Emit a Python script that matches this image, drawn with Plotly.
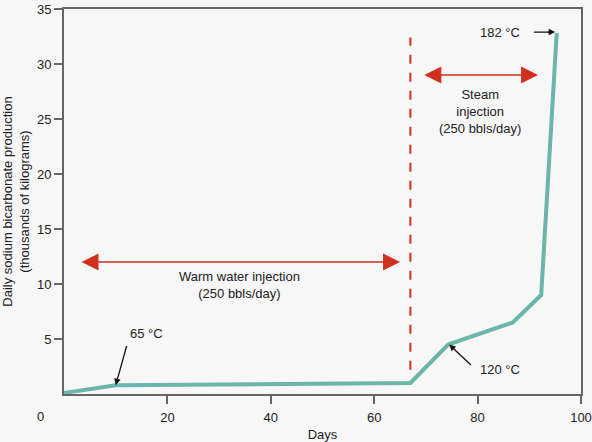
import plotly.graph_objects as go

# production curve
days = [0, 10, 67, 74.3, 86.8, 92.3, 95.3]
production = [0.1, 0.8, 1.0, 4.5, 6.5, 9.0, 32.8]

x_ticks = [20, 40, 60, 80, 100]
y_ticks = [5, 10, 15, 20, 25, 30, 35]

switch_day = 67
switch_span = [2.2, 32.4]

warm_arrow = [3.1, 65.0, 12.0]
steam_arrow = [69.4, 91.7, 29.0]

teal = '#6bb5aa'
red = '#d0301e'
bg = '#f7f7f7'
font = dict(family='Liberation Sans, Arial, sans-serif', size=13, color='#222')

fig = go.Figure()
fig.add_trace(go.Scatter(x=days, y=production, mode='lines',
                         line=dict(color=teal, width=4), showlegend=False))
fig.add_trace(go.Scatter(x=[switch_day, switch_day], y=switch_span, mode='lines',
                         line=dict(color=red, width=2, dash='dash'), showlegend=False))

# red double arrows
for x0, x1, y in [warm_arrow, steam_arrow]:
    fig.add_annotation(x=x1, y=y, ax=x0, ay=y, xref='x', yref='y', axref='x', ayref='y',
                       text='', showarrow=True, arrowhead=2, startarrowhead=2,
                       arrowside='end+start', arrowsize=2, startarrowsize=2,
                       arrowwidth=1.7, arrowcolor=red)

fig.add_annotation(x=34, y=9.9, text='Warm water injection<br>(250 bbls/day)',
                   showarrow=False, font=font)
fig.add_annotation(x=80.5, y=25.7, text='Steam<br>injection<br>(250 bbls/day)',
                   showarrow=False, font=font)

# temperature labels with black arrows
fig.add_annotation(x=10, y=0.8, ax=12.2, ay=4.5, xref='x', yref='y', axref='x', ayref='y',
                   text='', showarrow=True, arrowhead=2, arrowsize=1, arrowwidth=1.3,
                   arrowcolor='#111')
fig.add_annotation(x=15.9, y=5.5, text='65 °C', showarrow=False, font=font)

fig.add_annotation(x=74.5, y=4.5, ax=79.0, ay=2.5, xref='x', yref='y', axref='x', ayref='y',
                   text='', showarrow=True, arrowhead=2, arrowsize=1, arrowwidth=1.3,
                   arrowcolor='#111')
fig.add_annotation(x=84.3, y=2.2, text='120 °C', showarrow=False, font=font)

fig.add_annotation(x=95.0, y=32.9, ax=90.6, ay=32.9, xref='x', yref='y', axref='x', ayref='y',
                   text='', showarrow=True, arrowhead=2, arrowsize=1, arrowwidth=1.3,
                   arrowcolor='#111')
fig.add_annotation(x=84.4, y=32.9, text='182 °C', showarrow=False, font=font)

# shared origin label
fig.add_annotation(x=0, y=0, xref='paper', yref='paper', text='0', showarrow=False,
                   xanchor='center', yanchor='top', xshift=-24, yshift=-13, font=font)

axis_common = dict(showgrid=False, zeroline=False, showline=True, linecolor='#666',
                   linewidth=2, mirror=True, ticks='outside', ticklen=8, tickcolor='#666',
                   tickwidth=1.5, tickfont=font, automargin=False)

fig.update_layout(
    width=592, height=442,
    margin=dict(l=64, r=11, t=9, b=48),
    paper_bgcolor=bg, plot_bgcolor=bg,
    font=font,
    xaxis=dict(range=[0, 100], tickvals=x_ticks, ticklabelstandoff=2,
               title=dict(text='Days', font=font, standoff=8),
               **axis_common),
    yaxis=dict(range=[0, 35], tickvals=y_ticks,
               title=dict(text='Daily sodium bicarbonate production<br>(thousands of kilograms)',
                          font=font, standoff=6),
               **axis_common),
)

# drop the browser's default body margin so the figure fills the window
fig.write_html("out.html", config={'displayModeBar': False},
               post_script="document.body.style.margin = '0';")
